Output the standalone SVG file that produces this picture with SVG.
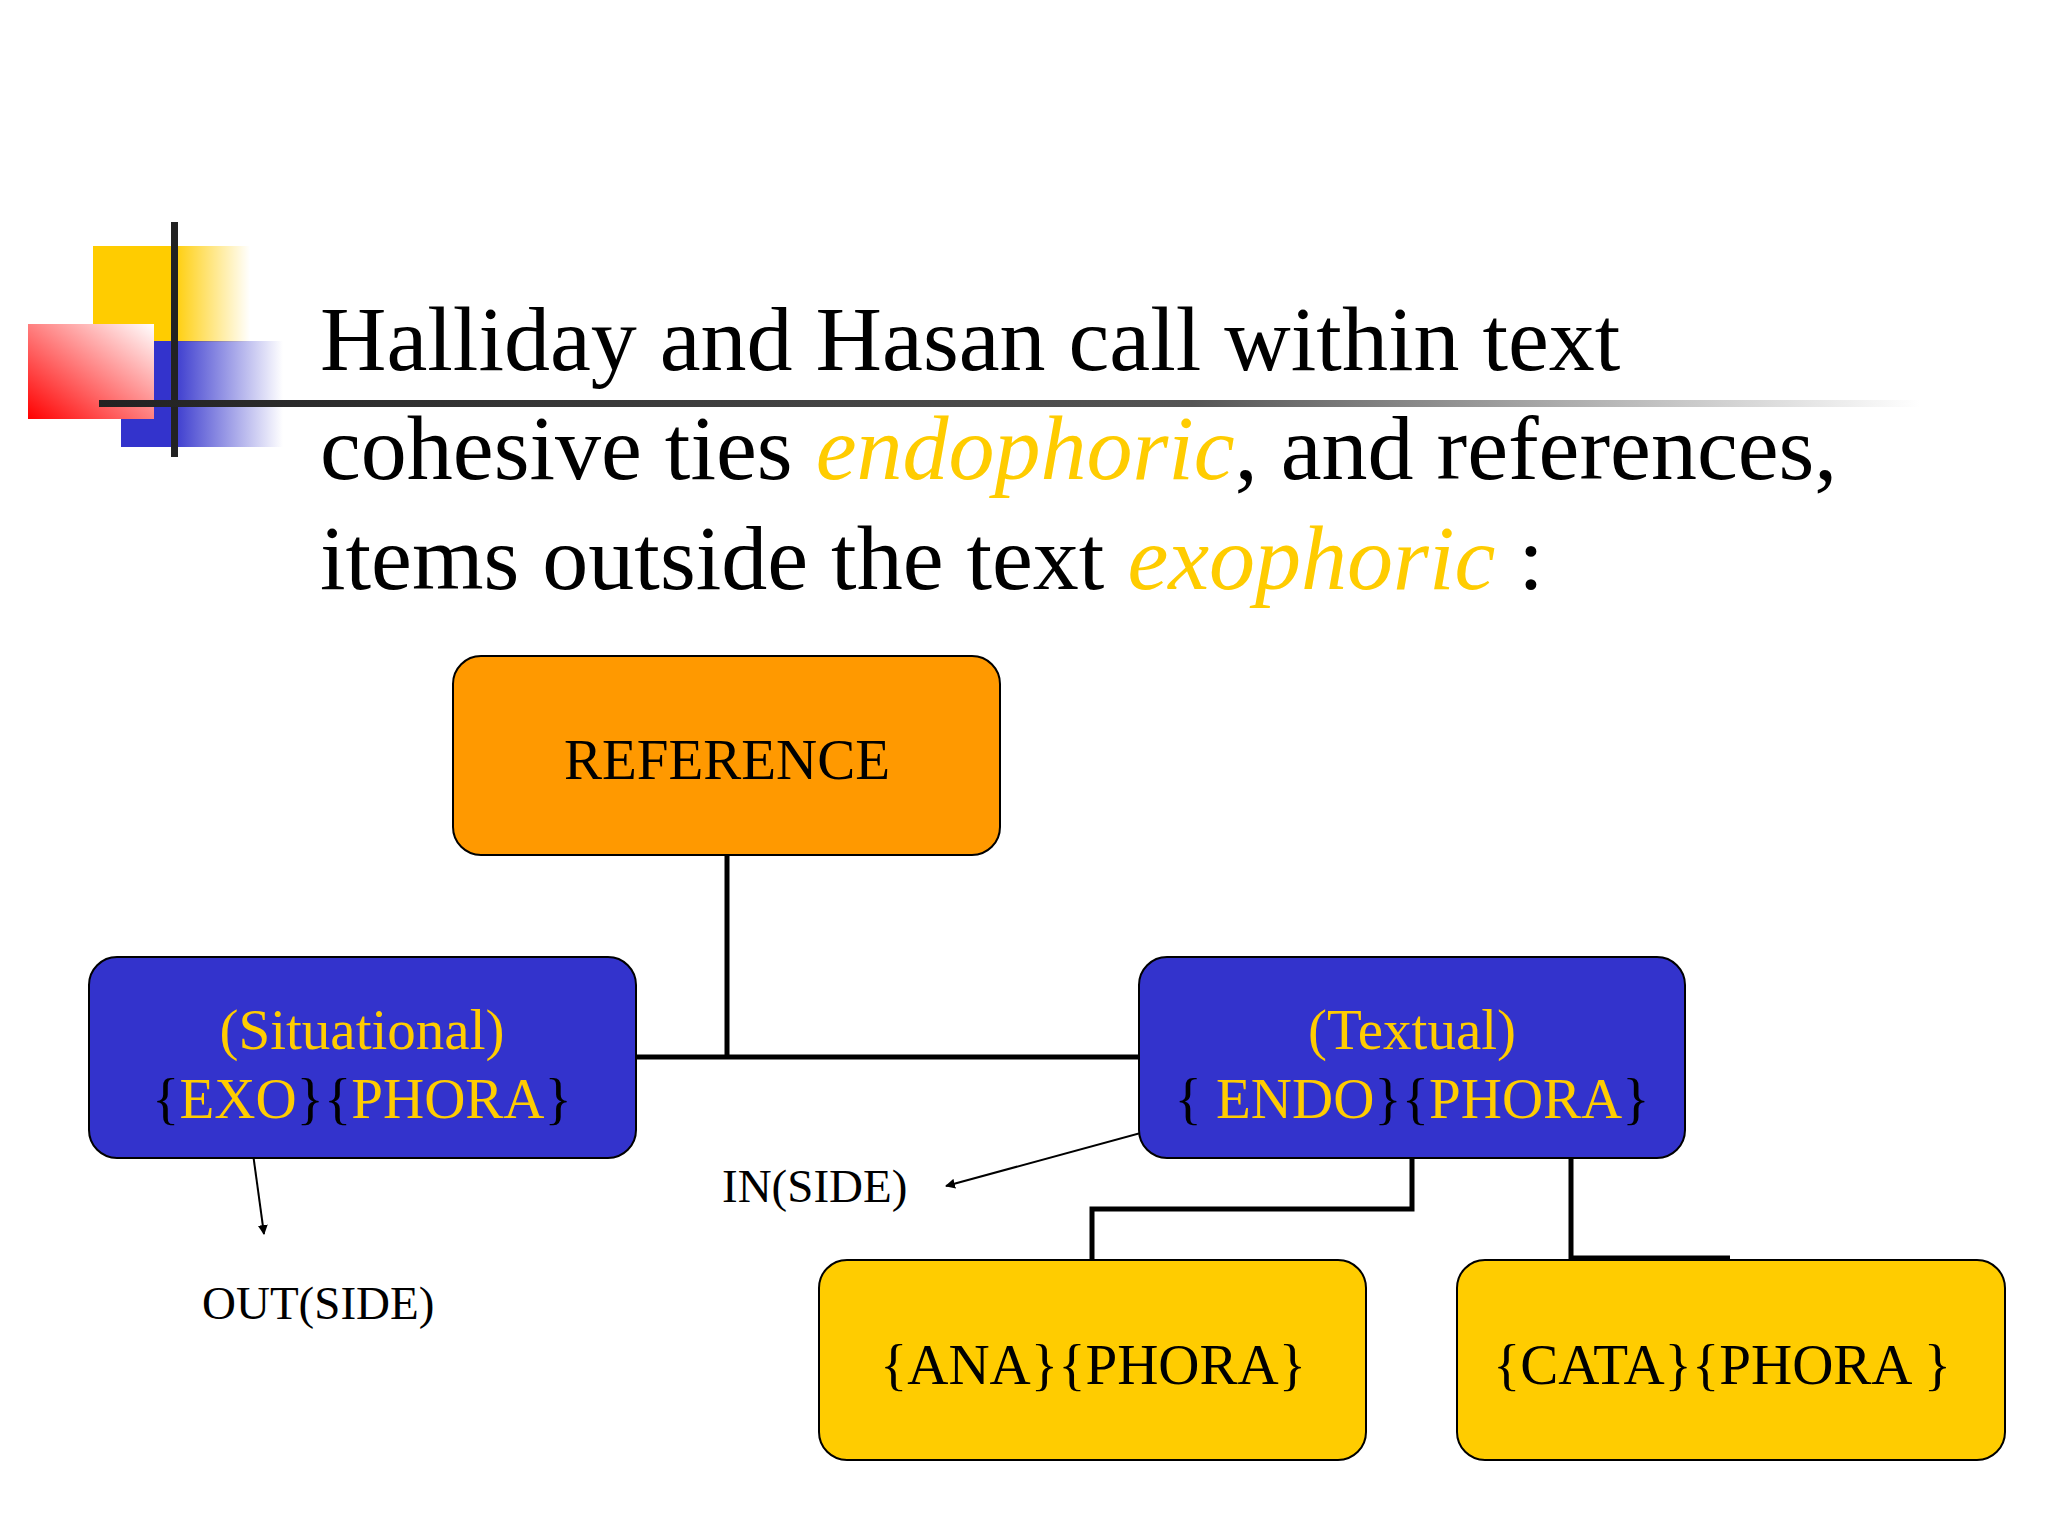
<svg xmlns="http://www.w3.org/2000/svg" width="2048" height="1536" viewBox="0 0 2048 1536">
<defs>
<linearGradient id="gy" x1="0" x2="1" y1="0" y2="0"><stop offset="0.5" stop-color="#FFCC00"/><stop offset="1" stop-color="#FFCC00" stop-opacity="0"/></linearGradient>
<linearGradient id="gb" x1="0" x2="1" y1="0" y2="0"><stop offset="0.3" stop-color="#3333CC"/><stop offset="1" stop-color="#3333CC" stop-opacity="0"/></linearGradient>
<linearGradient id="gr" x1="0" x2="1" y1="1" y2="0"><stop offset="0" stop-color="#FF0000"/><stop offset="1" stop-color="#FFFFFF"/></linearGradient>
<linearGradient id="gl" x1="0" x2="1" y1="0" y2="0"><stop offset="0" stop-color="#222"/><stop offset="0.6" stop-color="#555"/><stop offset="1" stop-color="#555" stop-opacity="0"/></linearGradient>
<marker id="ah" markerWidth="10" markerHeight="10" refX="9" refY="5" orient="auto" markerUnits="userSpaceOnUse"><path d="M0,0 L10,5 L0,10 z" fill="#000"/></marker>
</defs>
<style>
.t{font-family:"Liberation Serif",serif}
.title{font-size:92px;fill:#000}
.em{fill:#FFCC00;font-style:italic}
.lbl{font-size:57px;text-anchor:middle}
.y{fill:#FFCC00}
.k{fill:#000}
.box{stroke:#000;stroke-width:2}
.con{fill:none;stroke:#000;stroke-width:5}
.arr{stroke:#000;stroke-width:2;marker-end:url(#ah)}
</style>
<rect width="2048" height="1536" fill="#fff"/>
<g id="logo">
<rect x="93" y="246" width="157" height="96" fill="url(#gy)"/>
<rect x="121" y="341" width="162" height="106" fill="url(#gb)"/>
<rect x="28" y="324" width="126" height="95" fill="url(#gr)"/>
<rect x="171" y="222" width="7" height="235" fill="#222"/>
<rect x="99" y="400" width="1821" height="7" fill="url(#gl)"/>
</g>
<g id="title" class="t title">
<text x="320" y="370">Halliday and Hasan call within text</text>
<text x="320" y="479">cohesive ties <tspan class="em">endophoric</tspan>, and references,</text>
<text x="320" y="589">items outside the text <tspan class="em">exophoric</tspan> :</text>
</g>
<g id="connectors">
<path class="con" d="M727,855 V1057 M636,1057 H1139"/>
<path class="con" d="M1412,1158 V1209 H1092 V1260"/>
<path class="con" d="M1571,1158 V1258 H1730"/>
<line class="arr" x1="251" y1="1139" x2="264" y2="1234"/>
<line class="arr" x1="1247" y1="1104" x2="946" y2="1186"/>
</g>
<g id="reference">
<rect class="box" x="453" y="656" width="547" height="199" rx="28" fill="#FF9900"/>
<text class="t lbl k" x="727" y="779">REFERENCE</text>
</g>
<g id="situational">
<rect class="box" x="89" y="957" width="547" height="201" rx="28" fill="#3333CC"/>
<text class="t lbl y" x="362" y="1049">(Situational)</text>
<text class="t lbl y" x="362" y="1118"><tspan class="k">{</tspan>EXO<tspan class="k">}{</tspan>PHORA<tspan class="k">}</tspan></text>
</g>
<g id="textual">
<rect class="box" x="1139" y="957" width="546" height="201" rx="28" fill="#3333CC"/>
<text class="t lbl y" x="1412" y="1049">(Textual)</text>
<text class="t lbl y" x="1412" y="1118"><tspan class="k">{</tspan> ENDO<tspan class="k">}{</tspan>PHORA<tspan class="k">}</tspan></text>
</g>
<g id="ana">
<rect class="box" x="819" y="1260" width="547" height="200" rx="28" fill="#FFCC00"/>
<text class="t lbl k" x="1093" y="1384">{ANA}{PHORA}</text>
</g>
<g id="cata">
<rect class="box" x="1457" y="1260" width="548" height="200" rx="28" fill="#FFCC00"/>
<text class="t lbl k" x="1722" y="1384">{CATA}{PHORA }</text>
</g>
<g id="labels" class="t" font-size="47">
<text x="202" y="1319">OUT(SIDE)</text>
<text x="722" y="1202">IN(SIDE)</text>
</g>
</svg>
